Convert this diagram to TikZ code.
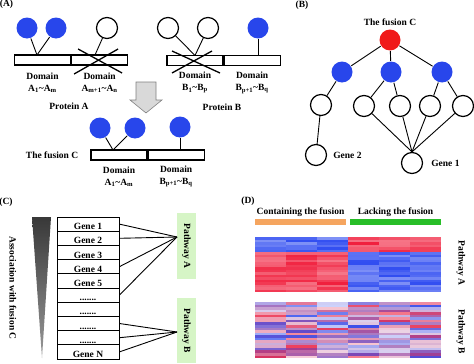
\documentclass[tikz,border=0pt]{standalone}
\usepackage{fontspec}
\setmainfont{Liberation Serif}
\usetikzlibrary{positioning,calc}
\definecolor{ballblue}{RGB}{40,70,235}
\definecolor{ballred}{RGB}{240,25,25}
\definecolor{pathgreen}{RGB}{214,245,198}
\definecolor{barorange}{RGB}{245,165,95}
\definecolor{bargreen}{RGB}{40,190,40}
\definecolor{heatred}{RGB}{240,30,60}
\definecolor{heatblue}{RGB}{40,70,240}
\newcommand\rowdots{.......}

\begin{document}
\begin{tikzpicture}[x=1pt,y=-1pt,
        txt/.style={font=\fontsize{9.5}{12}\selectfont\bfseries,
                    inner sep=1pt, align=center},
        domainbox/.style={draw, line width=1.1pt, minimum width=56pt,
                          minimum height=10pt, inner sep=0pt},
        site/.style={circle, minimum size=21pt, inner sep=0pt,
                     line width=1.2pt},
        bsite/.style={site, fill=ballblue},
        wsite/.style={site, draw, fill=white},
        link/.style={line width=0.9pt},
        cross/.style={line width=1.3pt},
        generow/.style={txt, draw, line width=0.8pt, minimum width=62pt,
                        minimum height=14.2pt, inner sep=0pt,
                        text height=11pt, text depth=0pt},
        pathbox/.style={txt, fill=pathgreen, rotate=-90,
                        minimum width=66pt, minimum height=19pt}]
  \useasboundingbox (0,0) rectangle (474,364);

  % (A) proteins and fusion
  \node[txt] (tagA) at (6.5,4.5) {(A)};
  \node[domainbox] (a1) at (42.5,60) {};
  \node[domainbox, right=0pt of a1] (a2) {};
  \node[domainbox] (b1) at (195,60.5) {};
  \node[domainbox, right=0pt of b1] (b2) {};
  \node[domainbox] (c1) at (119,155) {};
  \node[domainbox, right=0pt of c1] (c2) {};

  \node[bsite] (sa1) at (27,28) {};
  \node[bsite] (sa2) at (56,28) {};
  \node[wsite] (sa3) at (107,28) {};
  \node[wsite] (sb1) at (168,28) {};
  \node[wsite] (sb2) at (208,28) {};
  \node[bsite] (sb3) at (258,28) {};
  \node[bsite] (sc1) at (100,128) {};
  \node[bsite] (sc2) at (135,128) {};
  \node[bsite] (sc3) at (180,127) {};

  \coordinate (ja) at (37,55);
  \coordinate (jam) at (95,55);
  \coordinate (jb) at (195,55.5);
  \coordinate (jbq) at (258,55.5);
  \coordinate (jc) at (113,150);
  \coordinate (jcq) at (180,150);
  \draw[link] (sa1) -- (ja);
  \draw[link] (sa2) -- (ja);
  \draw[link] (sa3) -- (jam);
  \draw[link] (sb1) -- (jb);
  \draw[link] (sb2) -- (jb);
  \draw[link] (sb3) -- (jbq);
  \draw[link] (sc1) -- (jc);
  \draw[link] (sc2) -- (jc);
  \draw[link] (sc3) -- (jcq);

  \draw[cross] ($(a2)+(-21.5,-11)$) -- ($(a2)+(22.5,13)$);
  \draw[cross] ($(a2)+(-25.5,14)$) -- ($(a2)+(18.5,-11)$);
  \draw[cross] ($(b1)+(-23,-9.5)$) -- ($(b1)+(25,12.5)$);
  \draw[cross] ($(b1)+(-23,12.5)$) -- ($(b1)+(17,-9.5)$);

  \node[txt, below=6pt of a1] (la1) {Domain\\A\textsubscript{1}\textasciitilde A\textsubscript{m}};
  \node[txt, below=6pt of a2] (la2) {Domain\\A\textsubscript{m+1}\textasciitilde A\textsubscript{n}};
  \node[txt, below=5pt of b1] (lb1) {Domain\\B\textsubscript{1}\textasciitilde B\textsubscript{p}};
  \node[txt, below=5pt of b2] (lb2) {Domain\\B\textsubscript{p+1}\textasciitilde B\textsubscript{q}};
  \node[txt, below=5pt of c1] (lc1) {Domain\\A\textsubscript{1}\textasciitilde A\textsubscript{m}};
  \node[txt, below=4pt of c2] (lc2) {Domain\\B\textsubscript{p+1}\textasciitilde B\textsubscript{q}};
  \node[txt] (pa) at (69,106) {Protein A};
  \node[txt] (pb) at (222,107) {Protein B};
  \node[txt, left=11pt of c1] (fus) {The fusion C};

  \filldraw[fill=black!15, draw=black!50, line width=0.6pt]
    (136,82) -- (156,82) -- (156,100) -- (162,100) -- (146,113)
    -- (130,100) -- (136,100) -- cycle;

  % (B) network
  \node[txt] (tagB) at (302,5) {(B)};
  \node[site, fill=ballred] (fc) at (390,40) {};
  \node[txt, above=2pt of fc] {The fusion C};
  \node[bsite] (p1) at (342,72) {};
  \node[bsite] (p2) at (391,72) {};
  \node[bsite] (p3) at (442,72) {};
  \node[wsite] (w1) at (321,105) {};
  \node[wsite] (w2) at (364,106) {};
  \node[wsite] (w3) at (400,106) {};
  \node[wsite] (w4) at (430,106) {};
  \node[wsite] (w5) at (463,106) {};
  \node[wsite] (gb) at (316,155) {};
  \node[wsite] (ga) at (412,163) {};
  \node[txt, right=5pt of gb] {Gene 2};
  \node[txt, right=7pt of ga] {Gene 1};
  \foreach \n in {p1,p2,p3}
    \draw[link] (fc) -- (\n);
  \draw[link] (p1) -- (w1);
  \draw[link] (p2) -- (w2);
  \draw[link] (p2) -- (w3);
  \draw[link] (p3) -- (w4);
  \draw[link] (p3) -- (w5);
  \draw[link] (w1) -- (gb);
  \foreach \n in {w2,w3,w4,w5}
    \draw[link] (\n) -- (ga.north);

  % (C) ranked genes
  \node[txt] (tagC) at (6,202) {(C)};
  \shade[top color=black!78, bottom color=black!40]
    (32,217) -- (51,217) -- (42,358) -- cycle;
  \node[txt, rotate=-90] (assoc) at (13,288) {Association with fusion C};
  \foreach \t [count=\i] in {Gene 1,Gene 2,Gene 3,Gene 4,Gene 5,
                              \rowdots,\rowdots,\rowdots,\rowdots,Gene N}
    \node[generow] (g\i) at (88,{217+14.2*(\i-0.5)}) {\t};
  \node[pathbox] (pwa) at (186.5,246) {Pathway A};
  \node[pathbox, minimum width=65pt] (pwb) at (186.5,330.5) {Pathway B};
  \coordinate (ca) at (177,237);
  \coordinate (cb) at (177,332);
  \foreach \i in {1,2,4,6}
    \draw[link] (g\i.east) -- (ca);
  \foreach \i in {8,9,10}
    \draw[link] (g\i.east) -- (cb);

  % (D) heat maps
  \node[txt] (tagD) at (248,201) {(D)};
  \node[fill=barorange, minimum width=91pt, minimum height=6pt,
        inner sep=0pt] (with) at (300.5,222) {};
  \node[fill=bargreen, minimum width=91pt, minimum height=6pt,
        inner sep=0pt] (without) at (395.5,222) {};
  \node[txt, above=1pt of with] {Containing the fusion};
  \node[txt, above=1pt of without] {Lacking the fusion};
  \pgfmathsetseed{31}
  \foreach \c in {0,...,5}{
    \foreach \r in {0,...,21}{
      \pgfmathtruncatemacro\w{60+40*rnd}
      \pgfmathtruncatemacro\hot{(\c<3)!=(\r<6)}
      \ifnum\hot=1 \def\hc{heatred}\else\def\hc{heatblue}\fi
      \fill[\hc!\w!white] ({255+31*\c},{237+2.5*\r}) rectangle ++(31,2.5);
    }
  }
  \foreach \c in {0,...,5}{
    \foreach \r in {0,...,21}{
      \pgfmathtruncatemacro\m{100*rnd}
      \pgfmathtruncatemacro\w{20+75*rnd}
      \fill[heatred!\m!heatblue!\w!white]
        ({255+31*\c},{302+2.55*\r}) rectangle ++(31,2.55);
    }
  }
  \node[txt, rotate=-90] (hpa) at (461,263) {Pathway A};
  \node[txt, rotate=-90] (hpb) at (461,332) {Pathway B};
\end{tikzpicture}
\end{document}
